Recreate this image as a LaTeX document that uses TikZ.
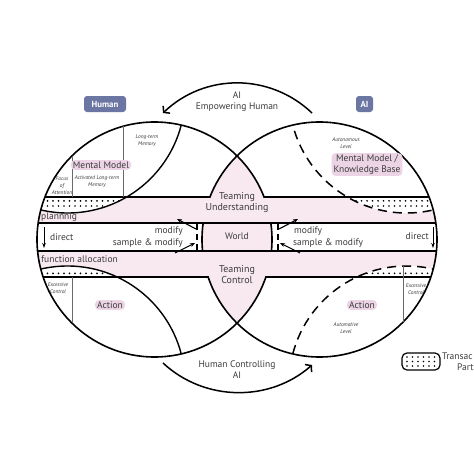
\documentclass[tikz,border=0pt]{standalone}
\usepackage{fontspec}
\setmainfont{PT Sans}
\usetikzlibrary{arrows.meta}
\definecolor{band}{RGB}{248,232,240}
\definecolor{hl}{RGB}{236,212,229}
\definecolor{tagblue}{RGB}{108,118,162}
\definecolor{txt}{RGB}{60,60,60}
\definecolor{thin}{RGB}{105,105,105}
\begin{document}
\begin{tikzpicture}[x=1pt,y=-1pt,
  outline/.style={line width=1.6pt},
  hline/.style={line width=1.2pt},
  sub/.style={line width=0.7pt,draw=thin},
  inner/.style={line width=1.4pt},
  dashedarc/.style={line width=1.5pt,dash pattern=on 9pt off 6pt},
  lab/.style={text=txt,font=\fontsize{9.5}{11}\selectfont,inner sep=0pt},
  small/.style={text=txt,font=\fontsize{5.4}{6.8}\selectfont\itshape,inner sep=0pt,align=center},
  tag/.style={fill=tagblue,text=white,font=\fontsize{8.8}{9}\selectfont\bfseries,rounded corners=3pt,minimum height=16pt,inner xsep=3pt},
  hlbox/.style={fill=hl,rounded corners=4pt,inner xsep=2pt,inner ysep=1.5pt,text=txt,font=\fontsize{9.5}{10.5}\selectfont},
  bigarrow/.style={line width=1.5pt,-{Straight Barb[length=4pt,width=10pt]}},
  smallarrow/.style={line width=1.1pt,-{Stealth[length=5pt,width=4pt]}},
  dotfill/.style={fill=black}
]
\useasboundingbox (0,0) rectangle (474,474);
\fill[white] (0,0) rectangle (474,474);
\def\R{117.5pt}
\coordinate (CL) at (154.5,239.5);
\coordinate (CR) at (319.5,239.5);
\coordinate (ULc) at (67.5,95.5);
\coordinate (URc) at (406.5,95.5);
\coordinate (LLc) at (67.5,383.5);
\coordinate (LRc) at (406.5,383.5);

% pink lens
\begin{scope}
  \clip (CL) circle[radius=\R];
  \fill[band] (CR) circle[radius=\R];
\end{scope}
% pink bands
\begin{scope}
  \clip (CL) circle[radius=\R] (CR) circle[radius=\R];
  \fill[band] (0,197) rectangle (474,223);
  \fill[band] (0,251) rectangle (474,277);
\end{scope}
% dotted regions
\begin{scope}
  \clip (CL) circle[radius=\R];
  \clip (ULc) circle[radius=\R];
  \clip (0,197) rectangle (237,240);
  \fill[white] (0,190) rectangle (237,240);
  \foreach \i in {0,...,17} {
    \fill[dotfill] ({42+5.5*\i},200.8) circle[radius=0.95pt];
    \fill[dotfill] ({42+5.5*\i},206) circle[radius=0.95pt];
  }
\end{scope}
\begin{scope}
  \clip (CR) circle[radius=\R];
  \clip (URc) circle[radius=\R];
  \clip (237,197) rectangle (474,240);
  \fill[white] (237,190) rectangle (474,240);
  \foreach \i in {0,...,17} {
    \fill[dotfill] ({345+5.5*\i},200.8) circle[radius=0.95pt];
    \fill[dotfill] ({345+5.5*\i},206) circle[radius=0.95pt];
  }
\end{scope}
\begin{scope}
  \clip (CL) circle[radius=\R];
  \clip (LLc) circle[radius=\R];
  \clip (0,240) rectangle (237,277);
  \fill[white] (0,240) rectangle (237,280);
  \foreach \i in {0,...,17} {
    \fill[dotfill] ({42+5.5*\i},273.3) circle[radius=0.95pt];
  }
\end{scope}
\begin{scope}
  \clip (CR) circle[radius=\R];
  \clip (LRc) circle[radius=\R];
  \clip (237,240) rectangle (474,277);
  \fill[white] (237,240) rectangle (474,280);
  \foreach \i in {0,...,17} {
    \fill[dotfill] ({345+5.5*\i},273.3) circle[radius=0.95pt];
  }
\end{scope}

% outlines
\draw[outline] (CL) circle[radius=\R];
\draw[outline] (CR) circle[radius=\R];
% hide lens arcs inside the bands
\fill[band] (196,197.8) rectangle (279,222.3);
\fill[band] (196,251.7) rectangle (279,276.2);

% inner arcs
\begin{scope}
  \clip (CL) circle[radius=\R];
  \draw[inner] (ULc) circle[radius=\R];
  \draw[inner] (LLc) circle[radius=\R];
\end{scope}
\begin{scope}
  \clip (CR) circle[radius=\R];
  \draw[dashedarc] (URc) circle[radius=\R];
  \draw[dashedarc] (LRc) circle[radius=\R];
\end{scope}

% horizontal lines
\draw[hline] (44.96,197) -- (209.96,197);
\draw[hline] (264.04,197) -- (429.04,197);
\draw[hline] (38.16,223) -- (435.84,223);
\draw[hline] (37.56,251) -- (436.44,251);
\draw[hline] (43.14,277) -- (208.14,277);
\draw[hline] (265.86,277) -- (430.86,277);

% subdivision lines
\draw[sub] (72,155.8) -- (72,197);
\draw[sub] (123,126.3) -- (123,197);
\draw[sub] (72,277) -- (72,323.2);
\draw[sub] (403,266) -- (403,322.2);

% dashed marks near World
\draw[line width=1.3pt,dash pattern=on 6pt off 4pt] (197,224) -- (197,250);
\draw[line width=1.3pt,dash pattern=on 6pt off 4pt] (278,224) -- (278,250);

% tags
\node[tag,minimum width=42pt] (human) at (105,104) {Human};
\node[tag,minimum width=17pt,inner xsep=2pt] (ai) at (364.5,104) {AI};

% big arrows
\coordinate (ta) at (312,113);
\coordinate (tb) at (163,113);
\draw[bigarrow] (ta) .. controls (270,73) and (205,73) .. (tb);
\coordinate (ba) at (163,363);
\coordinate (bb) at (312,365);
\draw[bigarrow] (ba) .. controls (205,402) and (270,402) .. (bb);
\node[lab,align=center] (emp) at (237,101.5) {AI\\Empowering Human};
\node[lab,align=center] (ctl) at (237,370) {Human Controlling\\AI};

% centre labels
\node[lab,align=center,font=\fontsize{10}{11.5}\selectfont] (tu) at (237,202.5) {Teaming\\Understanding};
\node[lab,align=center,font=\fontsize{10}{11.5}\selectfont] (tc) at (237,274.5) {Teaming\\Control};
\node[lab] (world) at (237,236) {World};

% band labels
\node[lab,anchor=west] (plan) at (41,217) {plannnig};
\node[lab,anchor=west] (fa) at (41,259) {function allocation};
\node[lab,anchor=west] (dl) at (50,237) {direct};
\node[lab,anchor=east] (dr) at (429,236) {direct};
\node[lab,anchor=east] (ml) at (183,231) {modify};
\node[lab,anchor=east] (sml) at (183,243.5) {sample \& modify};
\node[lab,anchor=west] (mr) at (294,231) {modify};
\node[lab,anchor=west] (smr) at (293,243.5) {sample \& modify};

% direct arrows
\coordinate (dl1) at (44,227);
\coordinate (dl2) at (44,248);
\coordinate (dr1) at (433,227);
\coordinate (dr2) at (433,248);
\draw[line width=0.9pt,-{Stealth[length=5pt,width=3.5pt]}] (dl1) -- (dl2);
\draw[line width=0.9pt,-{Stealth[length=5pt,width=3.5pt]}] (dr1) -- (dr2);

% modify arrows
\coordinate (m1a) at (196,229);
\coordinate (m1b) at (177,219);
\coordinate (s1a) at (175,253);
\coordinate (s1b) at (195,243);
\coordinate (m2a) at (279,229);
\coordinate (m2b) at (298,219);
\coordinate (s2a) at (300,253);
\coordinate (s2b) at (280,243);
\draw[smallarrow] (m1a) -- (m1b);
\draw[smallarrow] (s1a) -- (s1b);
\draw[smallarrow] (m2a) -- (m2b);
\draw[smallarrow] (s2a) -- (s2b);

% left circle labels
\node[hlbox] (mm) at (101,165) {Mental Model};
\node[small] (ltm) at (147,141) {Long-term\\Memory};
\node[small] (foa) at (62,185.5) {Focus\\of\\Attention};
\node[small] (altm) at (97,182) {Activated Long-term\\Memory};
\node[small] (exl) at (58,288) {Excessive\\Control};
\node[hlbox] (actl) at (110,305) {Action};

% right circle labels
\node[small] (aut) at (346,143.5) {Autonomous\\Level};
\node[hlbox,align=center,font=\fontsize{9.5}{11}\selectfont] (mmkb) at (367,164.5) {Mental Model /\\Knowledge Base};
\node[hlbox] (actr) at (362,305) {Action};
\node[small] (autm) at (346,328) {Automative\\Level};
\node[small] (exr) at (416,289.5) {Excessive\\Control};

% legend
\draw[line width=1.2pt,rounded corners=5pt] (402,353) rectangle (440,370);
\foreach \i in {0,...,5} {
  \fill[dotfill] ({407+5.5*\i},357) circle[radius=0.95pt];
  \fill[dotfill] ({407+5.5*\i},361.5) circle[radius=0.95pt];
  \fill[dotfill] ({407+5.5*\i},366) circle[radius=0.95pt];
}
\node[lab,anchor=west] (lg1) at (442,356.5) {Transac};
\node[lab,anchor=west] (lg2) at (457,367.5) {Part};
\end{tikzpicture}
\end{document}
